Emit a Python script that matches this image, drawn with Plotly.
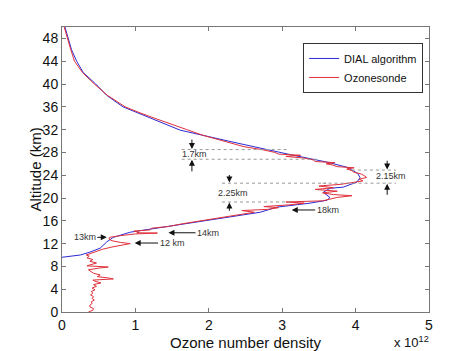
import plotly.graph_objects as go

# DIAL algorithm profile (altitude km, density x1e12)
dial_alt = [9.6, 10.0, 10.5, 11.2, 12.3, 13.1, 14.0, 14.9, 15.9, 16.5, 17.5, 18.4, 18.7,
            19.1, 19.6, 20.1, 21.0, 21.7, 21.9, 22.8, 23.6, 24.3, 25.4, 26.3, 27.5, 28.7,
            29.8, 31.9, 34.0, 36.0, 38.0, 40.0, 42.0, 44.0, 46.0, 48.0, 50.0]
dial_val = [0.0, 0.25, 0.38, 0.52, 0.61, 0.70, 0.93, 1.38, 1.88, 2.15, 2.70, 2.93, 3.15,
            3.38, 3.61, 3.65, 3.56, 3.65, 3.83, 4.02, 4.06, 4.03, 3.88, 3.61, 3.15, 2.70,
            2.33, 1.61, 1.20, 0.83, 0.61, 0.46, 0.29, 0.20, 0.13, 0.08, 0.04]

# Ozonesonde profile
sonde_alt = [0.0, 0.3, 0.6, 0.9, 1.2, 1.5, 1.8, 2.1, 2.4, 2.7, 3.0, 3.3, 3.6, 3.9, 4.2,
             4.5, 4.8, 5.1, 5.4, 5.6, 5.8, 6.0, 6.2, 6.5, 6.8, 7.1, 7.4, 7.7, 7.9, 8.1,
             8.4, 8.6, 8.9, 9.2, 9.5, 9.8, 10.0, 10.3, 10.6, 11.0, 11.4, 11.8, 12.0, 12.2,
             12.5, 12.8, 13.1, 13.4, 13.7, 13.85, 13.9, 14.0, 14.2, 14.4, 14.7, 15.0, 15.5,
             16.0, 16.5, 17.0, 17.5, 17.8, 18.0, 18.3, 18.5, 18.8, 19.1, 19.3, 19.5, 19.8,
             20.1, 20.4, 20.6, 20.9, 21.2, 21.5, 21.8, 22.1, 22.4, 22.7, 23.0, 23.3, 23.6,
             23.9, 24.2, 24.5, 24.8, 25.1, 25.3, 25.5, 25.8, 26.0, 26.2, 26.4, 26.7, 27.0,
             27.3, 27.5, 27.7, 28.0, 28.5, 29.0, 30.0, 31.0, 32.0, 33.0, 34.0, 35.0, 36.0,
             38.0, 40.0, 42.0, 44.0, 46.0, 48.0, 50.0]
sonde_val = [0.36, 0.42, 0.43, 0.38, 0.38, 0.41, 0.40, 0.44, 0.41, 0.43, 0.39, 0.42, 0.40,
             0.45, 0.41, 0.47, 0.43, 0.53, 0.45, 0.42, 0.70, 0.62, 0.48, 0.52, 0.43, 0.40,
             0.36, 0.50, 0.63, 0.34, 0.42, 0.47, 0.38, 0.42, 0.34, 0.37, 0.33, 0.40, 0.46,
             0.55, 0.68, 0.85, 0.93, 0.80, 0.68, 0.64, 0.65, 0.80, 1.00, 1.30, 1.02, 1.05,
             0.98, 1.20, 1.22, 1.45, 1.65, 1.90, 2.12, 2.35, 2.62, 2.45, 2.80, 2.95, 2.75,
             3.10, 3.30, 3.05, 3.55, 3.65, 3.75, 3.95, 3.70, 3.55, 3.75, 3.45, 3.70, 3.50,
             3.80, 3.95, 4.10, 4.05, 4.15, 4.12, 4.08, 3.98, 3.95, 3.88, 3.98, 3.75, 3.68,
             3.60, 3.72, 3.45, 3.42, 3.30, 3.05, 3.25, 2.95, 2.90, 2.72, 2.48, 2.20, 1.92,
             1.70, 1.47, 1.26, 1.05, 0.86, 0.62, 0.44, 0.28, 0.17, 0.12, 0.07, 0.03]

x_ticks = [0, 1, 2, 3, 4, 5]
y_ticks = list(range(0, 49, 4))

FONT = "Liberation Sans, Arial, sans-serif"

fig = go.Figure()
fig.add_trace(go.Scatter(x=dial_val, y=dial_alt, mode="lines", name="DIAL algorithm",
                         line=dict(color="#2b2bd6", width=1)))
fig.add_trace(go.Scatter(x=sonde_val, y=sonde_alt, mode="lines", name="Ozonesonde",
                         line=dict(color="#e0303a", width=1)))

# dotted guide lines (x0, x1, altitude)
guides = [(1.63, 3.07, 28.5), (1.63, 3.47, 26.8),
          (3.95, 4.55, 24.9), (3.55, 4.55, 22.6),
          (2.18, 3.60, 22.6), (2.18, 3.10, 19.3)]
for x0, x1, yy in guides:
    fig.add_shape(type="line", x0=x0, x1=x1, y0=yy, y1=yy, xref="x", yref="y",
                  line=dict(color="#999999", width=1, dash="dot"))

ann = []
# vertical arrows: (x, tail y, tip y)
varrows = [(1.77, 30.5, 28.6), (1.77, 24.4, 26.7),
           (4.43, 26.8, 25.0), (4.43, 20.3, 22.5),
           (2.28, 24.3, 22.7), (2.28, 17.5, 19.2)]
for xx, yt, yh in varrows:
    ann.append(dict(x=xx, y=yh, ax=xx, ay=yt, xref="x", yref="y", axref="x", ayref="y",
                    text="", showarrow=True, arrowhead=2, arrowsize=1.2, arrowwidth=1,
                    arrowcolor="#111"))
# labels between guide lines
for txt, xx, yy in [("1.7km", 1.80, 27.7), ("2.15km", 4.48, 23.8), ("2.25km", 2.33, 20.9)]:
    ann.append(dict(x=xx, y=yy, xref="x", yref="y", text=txt, showarrow=False,
                    font=dict(family=FONT, size=9, color="#333")))
# horizontal labelled arrows: (text, tip x, tip y, text x)
harrows = [("18km", 3.13, 17.9, 3.62), ("14km", 1.45, 13.9, 1.99),
           ("12 km", 0.99, 12.1, 1.50), ("13km", 0.61, 13.1, 0.31)]
for txt, xh, yh, xt in harrows:
    ann.append(dict(x=xh, y=yh, ax=xt, ay=yh, xref="x", yref="y", axref="x", ayref="y",
                    text=txt, showarrow=True, arrowhead=2, arrowsize=1.2, arrowwidth=1,
                    arrowcolor="#111", font=dict(family=FONT, size=9, color="#333")))

# axis titles & exponent
ann.append(dict(x=0.5, y=0.0, xref="paper", yref="paper", yshift=-30, yanchor="middle",
                text="Ozone number density", showarrow=False,
                font=dict(family=FONT, size=15, color="#111")))
ann.append(dict(x=0, y=0.5, xref="paper", yref="paper", xshift=-27, xanchor="center",
                text="Altitude (km)", textangle=-90, showarrow=False,
                font=dict(family=FONT, size=15, color="#111")))
ann.append(dict(x=1, y=0, xref="paper", yref="paper", xanchor="right", yanchor="middle",
                yshift=-30, xshift=2, text="x 10<sup>12</sup>", showarrow=False,
                font=dict(family=FONT, size=13, color="#111")))

fig.update_layout(
    width=474, height=351,
    margin=dict(l=62, r=45, t=27, b=39),
    paper_bgcolor="white", plot_bgcolor="white",
    font=dict(family=FONT, size=14, color="#111"),
    showlegend=True,
    legend=dict(x=0.657, y=0.944, xanchor="left", yanchor="top",
                bgcolor="white", bordercolor="#333", borderwidth=1,
                font=dict(family=FONT, size=11, color="#111"),
                itemwidth=30, tracegroupgap=0),
    annotations=ann,
)
fig.update_xaxes(range=[0, 5], tickvals=x_ticks, ticks="inside", ticklen=4,
                 showline=True, linecolor="#777", linewidth=1, mirror="ticks",
                 tickcolor="#777", showgrid=False, zeroline=False,
                 tickfont=dict(family=FONT, size=14, color="#111"))
fig.update_yaxes(range=[0, 50], tickvals=y_ticks, ticks="inside", ticklen=4,
                 showline=True, linecolor="#777", linewidth=1, mirror="ticks",
                 tickcolor="#777", showgrid=False, zeroline=False,
                 tickfont=dict(family=FONT, size=14, color="#111"))

fig.write_html("out.html")
